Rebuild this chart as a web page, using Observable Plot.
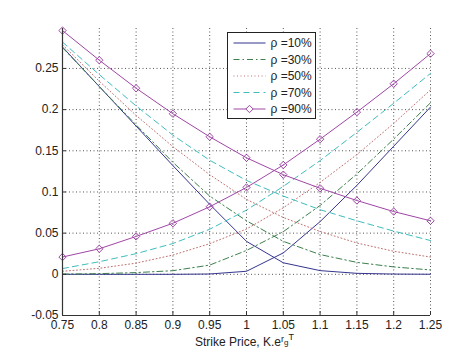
<!DOCTYPE html>
<html><head><meta charset="utf-8">
<script src="https://cdn.jsdelivr.net/npm/d3@7"></script>
<script src="https://cdn.jsdelivr.net/npm/@observablehq/plot@0.6"></script>
<style>html,body{margin:0;padding:0;background:#fff;}</style>
</head><body><div id="chart"></div>
<script>
// ---- data ----
const strikes = [0.75, 0.8, 0.85, 0.9, 0.95, 1, 1.05, 1.1, 1.15, 1.2, 1.25];
const xTickLabels = ["0.75","0.8","0.85","0.9","0.95","1","1.05","1.1","1.15","1.2","1.25"];
const yTicks = [-0.05, 0, 0.05, 0.1, 0.15, 0.2, 0.25];
const yTickLabels = ["-0.05","0","0.05","0.1","0.15","0.2","0.25"];
const seriesNames = ["ρ =10%", "ρ =30%", "ρ =50%", "ρ =70%", "ρ =90%"];

const call10 = [0.276, 0.228, 0.180, 0.132, 0.085, 0.040, 0.014, 0.0045, 0.0012, 0.0003, 0.0001];
const put10  = [0, 0, 0, 0, 0.0004, 0.0037, 0.026, 0.064, 0.108, 0.1555, 0.2031];
const call30 = [0.2753, 0.228, 0.1815, 0.136, 0.095, 0.065, 0.040, 0.024, 0.0145, 0.009, 0.0053];
const put30  = [0.0003, 0.0008, 0.0021, 0.0044, 0.0112, 0.029, 0.0518, 0.0836, 0.1219, 0.1642, 0.2083];
const call50 = [0.2787, 0.2345, 0.193, 0.155, 0.121, 0.091, 0.069, 0.052, 0.038, 0.028, 0.021];
const put50  = [0.0037, 0.0073, 0.0136, 0.0234, 0.0372, 0.055, 0.0808, 0.1116, 0.1454, 0.1832, 0.224];
const call70 = [0.282, 0.2425, 0.2045, 0.169, 0.1385, 0.114, 0.095, 0.0785, 0.065, 0.0525, 0.041];
const put70  = [0.007, 0.0153, 0.0251, 0.0374, 0.0547, 0.078, 0.1068, 0.1381, 0.1724, 0.2077, 0.244];
const call90 = [0.296, 0.26, 0.226, 0.195, 0.167, 0.1415, 0.121, 0.1045, 0.0896, 0.0762, 0.065];
const put90  = [0.021, 0.031, 0.046, 0.062, 0.082, 0.1055, 0.1328, 0.1641, 0.197, 0.2314, 0.268];

// ---- styles ----
const styles = [
  {color: "#35358f", dash: null, marker: false},
  {color: "#3c7f4c", dash: "6,3,1.5,3", marker: false},
  {color: "#c07070", dash: "1,2.5", marker: false},
  {color: "#3fbdbd", dash: "6,4", marker: false},
  {color: "#a046a6", dash: null, marker: true}
];
const values = [[call10, put10], [call30, put30], [call50, put50], [call70, put70], [call90, put90]];
const rows = arr => strikes.map((k, i) => ({k, v: arr[i]}));

const W = 474, H = 354, ML = 62, MR = 44, MT = 28, MB = 39;
const gridStyle = {stroke: "#444", strokeOpacity: 0.9, strokeDasharray: "1,2.5"};
const axisColor = "#333";
const FONT = "'Liberation Sans', Arial, sans-serif";

const marks = [
  Plot.gridX(strikes, gridStyle),
  Plot.gridY(yTicks, gridStyle)
];
values.forEach((pair, si) => {
  const st = styles[si];
  pair.forEach(arr => {
    marks.push(Plot.line(rows(arr), {x: "k", y: "v", stroke: st.color, strokeWidth: 1, strokeDasharray: st.dash || undefined}));
    if (st.marker) marks.push(Plot.dot(rows(arr), {x: "k", y: "v", symbol: "diamond2", r: 3.3, stroke: st.color, fill: "none", strokeWidth: 1}));
  });
});
marks.push(
  Plot.ruleX([0.75], {stroke: axisColor, strokeWidth: 1.2}),
  Plot.ruleY([-0.05], {stroke: axisColor, strokeWidth: 1.2}),
  Plot.tickX(strikes, {x: d => d, insetTop: H - MT - MB - 4, stroke: axisColor}),
  Plot.tickY(yTicks, {y: d => d, insetRight: W - ML - MR - 4, stroke: axisColor}),
  Plot.axisX(strikes, {tickSize: 0, tickPadding: 5, label: null, fontSize: 12, tickFormat: d => xTickLabels[strikes.indexOf(d)]}),
  Plot.axisY(yTicks, {tickSize: 0, tickPadding: 4, label: null, fontSize: 12, tickFormat: d => yTickLabels[yTicks.indexOf(d)]})
);

const svg = Plot.plot({
  width: W, height: H,
  marginLeft: ML, marginRight: MR, marginTop: MT, marginBottom: MB,
  style: {fontFamily: FONT, fontSize: "12px", background: "#fff", color: "#222", overflow: "visible"},
  x: {domain: [0.75, 1.25]},
  y: {domain: [-0.05, 0.2985]},
  marks
});
document.getElementById("chart").appendChild(svg);

// ---- x-axis label with super/subscripts ----
const s = d3.select(svg);
const lab = s.append("text").attr("x", 195).attr("y", 346).attr("text-anchor", "start")
  .attr("font-family", FONT).attr("font-size", 12).attr("fill", "#222");
lab.append("tspan").text("Strike Price, K.e");
lab.append("tspan").attr("dy", -4).attr("font-size", 9).text("r");
lab.append("tspan").attr("dy", 3).attr("font-size", 8).text("g");
lab.append("tspan").attr("dy", -5).attr("font-size", 9).text("T");

// ---- legend ----
const lg = s.append("g").attr("text-anchor", "start");
const lx = 227.5, ly = 32.5, lw = 88, lh = 86;
lg.append("rect").attr("x", lx).attr("y", ly).attr("width", lw).attr("height", lh)
  .attr("fill", "#fff").attr("stroke", "#222").attr("stroke-width", 1);
seriesNames.forEach((name, i) => {
  const st = styles[i];
  const yy = ly + 10.5 + i * 16.5;
  lg.append("line").attr("x1", lx + 6).attr("x2", lx + 38).attr("y1", yy).attr("y2", yy)
    .attr("stroke", st.color).attr("stroke-width", 1).attr("stroke-dasharray", st.dash);
  if (st.marker) {
    lg.append("path").attr("d", d3.symbol(d3.symbolDiamond2, Math.PI * 3.3 * 3.3)())
      .attr("transform", `translate(${lx + 22},${yy})`).attr("fill", "#fff").attr("stroke", st.color);
  }
  lg.append("text").attr("x", lx + 43).attr("y", yy).attr("dy", "0.35em").attr("text-anchor", "start")
    .attr("font-family", FONT).attr("font-size", 12).attr("fill", "#222").text(name);
});
</script>
</body></html>
